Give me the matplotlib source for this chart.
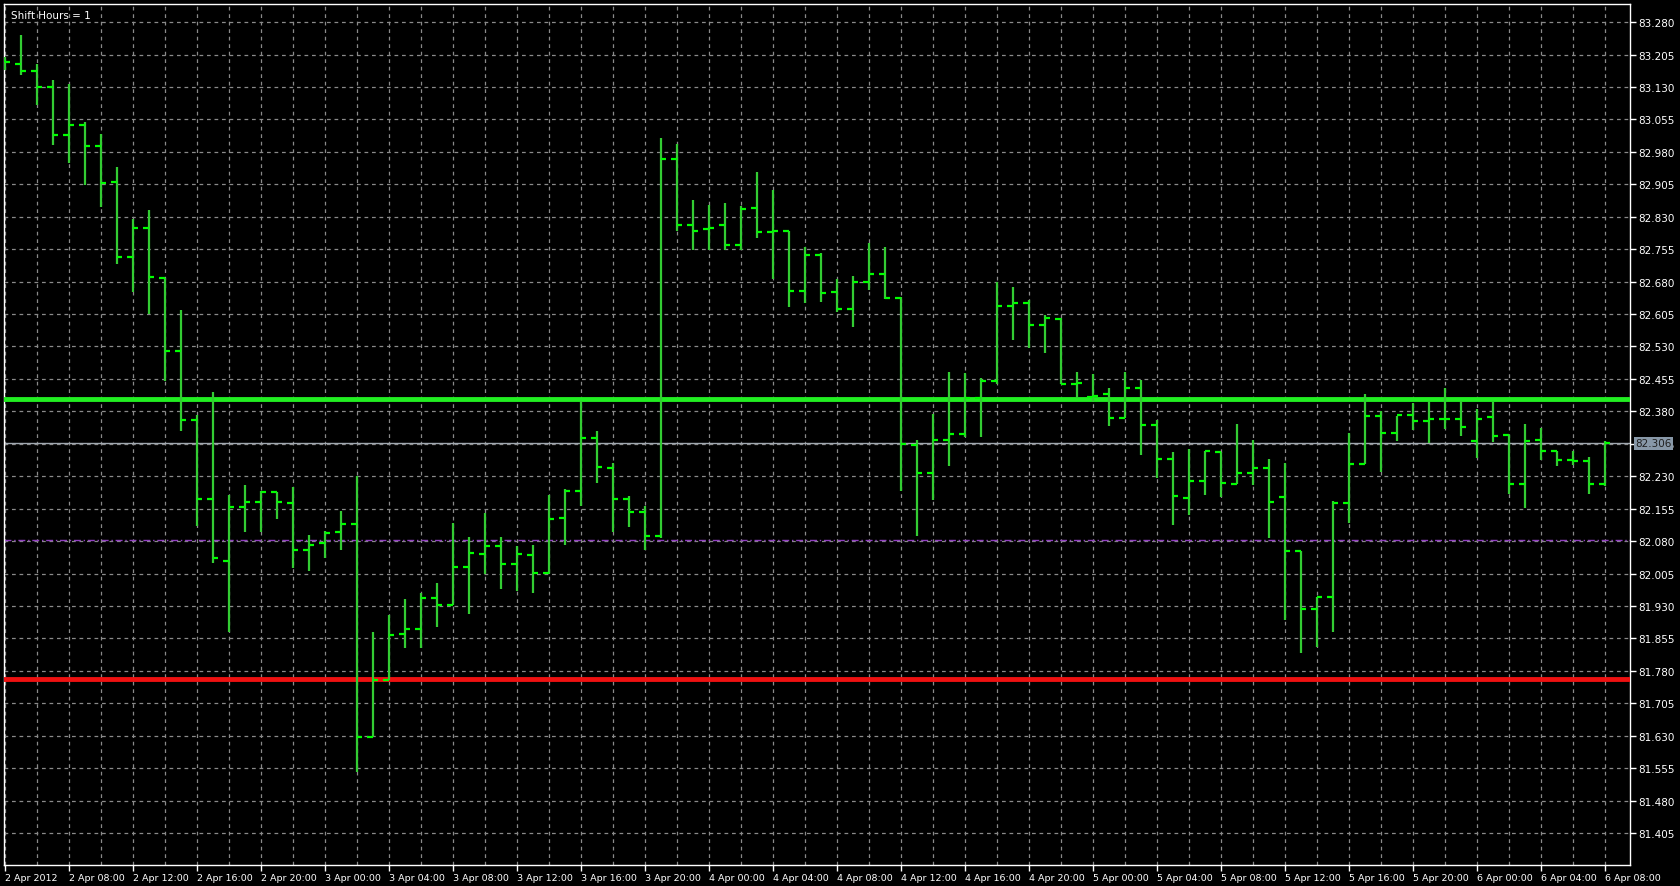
import matplotlib
matplotlib.use("Agg")
import matplotlib.pyplot as plt
import numpy as np

opens = [83.190,83.184,83.168,83.129,83.019,83.043,82.994,82.911,82.738,82.805,
         82.688,82.519,82.360,82.177,82.034,82.160,82.171,82.194,82.169,82.059,
         82.076,82.101,82.119,81.627,81.759,81.865,81.877,81.949,81.932,82.020,
         82.051,82.069,82.028,82.049,82.007,82.133,82.197,82.319,82.249,82.178,
         82.148,82.091,82.964,82.810,82.801,82.810,82.765,82.851,82.795,82.798,
         82.659,82.742,82.657,82.616,82.680,82.698,82.642,82.302,82.237,82.314,
         82.327,82.412,82.450,82.623,82.631,82.579,82.593,82.444,82.414,82.421,
         82.364,82.434,82.348,82.270,82.179,82.219,82.286,82.212,82.238,82.249,
         82.182,82.056,81.923,81.950,82.168,82.258,82.369,82.330,82.372,82.358,
         82.362,82.362,82.312,82.368,82.325,82.212,82.314,82.289,82.268,82.265,
         82.212]
highs = [83.200,83.250,83.184,83.146,83.136,83.049,83.021,82.945,82.825,82.845,
         82.689,82.614,82.371,82.424,82.187,82.210,82.196,82.194,82.204,82.094,
         82.103,82.149,82.231,81.869,81.910,81.947,81.960,81.984,82.123,82.089,
         82.145,82.089,82.068,82.071,82.186,82.201,82.405,82.334,82.260,82.185,
         82.162,83.013,82.998,82.869,82.858,82.862,82.855,82.933,82.892,82.798,
         82.760,82.746,82.687,82.692,82.769,82.761,82.645,82.313,82.373,82.470,
         82.468,82.458,82.680,82.668,82.637,82.603,82.595,82.470,82.466,82.435,
         82.472,82.452,82.359,82.285,82.293,82.289,82.286,82.350,82.313,82.269,
         82.260,82.056,81.950,82.173,82.329,82.421,82.381,82.370,82.399,82.405,
         82.434,82.405,82.385,82.401,82.325,82.351,82.341,82.289,82.289,82.274,
         82.312]
lows = [83.170,83.157,83.089,82.997,82.955,82.904,82.852,82.721,82.656,82.605,
        82.450,82.335,82.114,82.029,81.870,82.101,82.101,82.130,82.018,82.011,
        82.041,82.060,81.547,81.626,81.758,81.832,81.833,81.882,81.932,81.912,
        82.005,81.969,81.964,81.959,82.005,82.071,82.162,82.214,82.102,82.112,
        82.060,82.087,82.796,82.752,82.752,82.754,82.754,82.782,82.687,82.621,
        82.631,82.634,82.610,82.574,82.661,82.640,82.196,82.092,82.175,82.253,
        82.320,82.320,82.443,82.546,82.526,82.514,82.443,82.412,82.402,82.347,
        82.364,82.280,82.227,82.118,82.141,82.187,82.182,82.212,82.210,82.088,
        81.898,81.822,81.834,81.869,82.123,82.258,82.239,82.312,82.337,82.307,
        82.339,82.324,82.272,82.310,82.189,82.156,82.267,82.253,82.256,82.189,
        82.207]
closes = [83.187,83.166,83.129,83.019,83.043,82.994,82.909,82.738,82.805,82.690,
          82.519,82.360,82.177,82.041,82.160,82.171,82.194,82.171,82.059,82.072,
          82.099,82.120,81.627,81.759,81.863,81.877,81.949,81.932,82.020,82.053,
          82.069,82.028,82.051,82.007,82.132,82.197,82.319,82.251,82.178,82.148,
          82.091,82.964,82.810,82.798,82.805,82.765,82.849,82.795,82.798,82.659,
          82.742,82.653,82.616,82.678,82.698,82.642,82.305,82.237,82.314,82.327,
          82.412,82.450,82.623,82.631,82.579,82.596,82.443,82.446,82.416,82.364,
          82.434,82.348,82.270,82.185,82.219,82.289,82.214,82.238,82.249,82.171,
          82.056,81.923,81.950,82.168,82.258,82.369,82.330,82.372,82.358,82.362,
          82.362,82.344,82.362,82.324,82.212,82.311,82.289,82.268,82.265,82.212,
          82.308]

x_labels = ["2 Apr 2012","2 Apr 08:00","2 Apr 12:00","2 Apr 16:00","2 Apr 20:00",
            "3 Apr 00:00","3 Apr 04:00","3 Apr 08:00","3 Apr 12:00","3 Apr 16:00",
            "3 Apr 20:00","4 Apr 00:00","4 Apr 04:00","4 Apr 08:00","4 Apr 12:00",
            "4 Apr 16:00","4 Apr 20:00","5 Apr 00:00","5 Apr 04:00","5 Apr 08:00",
            "5 Apr 12:00","5 Apr 16:00","5 Apr 20:00","6 Apr 00:00","6 Apr 04:00",
            "6 Apr 08:00"]
y_ticks = [81.405,81.480,81.555,81.630,81.705,81.780,81.855,81.930,82.005,82.080,
           82.155,82.230,82.305,82.380,82.455,82.530,82.605,82.680,82.755,82.830,
           82.905,82.980,83.055,83.130,83.205,83.280]
resistance = 82.409
support = 81.762
pivot = 82.083
bid = 82.306

fig = plt.figure(figsize=(16.8, 8.87), dpi=100, facecolor="black")
ax = fig.add_axes([4/1680, 21/887, 1626/1680, 861/887], facecolor="black")
n = len(opens)
xs = np.arange(n)

ax.set_xlim(-0.04, 101.58)
ax.set_ylim(81.331, 83.322)

grid_kw = dict(color="#8a8a8a", linestyle=(0, (3, 3)), linewidth=0.9, zorder=1)
for yv in y_ticks:
    ax.axhline(yv, **grid_kw)
for xv in range(0, 102, 2):
    ax.axvline(xv, **grid_kw)

ax.axhline(pivot, color="#9040c0", linestyle=(0, (5, 2, 1, 2)), linewidth=1.0, zorder=2)
ax.axhline(bid, color="#a0a8b0", linewidth=1.0, zorder=2)
ax.axhline(resistance, color="#22ee22", linewidth=3.5, zorder=3)
ax.axhline(support, color="#ee1111", linewidth=3.5, zorder=3)

ax.vlines(xs, lows, highs, color="#33cc33", linewidth=1.6, zorder=4)
ax.hlines(opens, xs - 0.33, xs, color="#00ff00", linewidth=1.6, zorder=4)
ax.hlines(closes, xs, xs + 0.33, color="#00ff00", linewidth=1.6, zorder=4)

ax.yaxis.tick_right()
ax.set_yticks(y_ticks)
ax.set_yticklabels([f"{v:.3f}" for v in y_ticks])
ax.set_xticks(np.arange(0, 4 * len(x_labels), 4))
ax.set_xticklabels(x_labels, ha="left")
ax.tick_params(axis="both", colors="white", labelcolor="white", labelsize=7.5,
               length=4, width=1, direction="out")
ax.tick_params(axis="x", pad=2, labelsize=6.8)
ax.tick_params(axis="y", pad=2)
for s in ax.spines.values():
    s.set_color("white")
    s.set_linewidth(1)

ax.annotate(f"{bid:.3f}", xy=(1.0, bid), xycoords=("axes fraction", "data"),
            xytext=(4, 0), textcoords="offset points", va="center", ha="left",
            fontsize=7.5, color="#202020",
            bbox=dict(boxstyle="square,pad=0.15", facecolor="#8898a8", edgecolor="none"),
            zorder=6, annotation_clip=False)

ax.text(0.004, 0.993, "Shift Hours = 1", transform=ax.transAxes, color="white",
        fontsize=7.5, va="top", ha="left")

fig.savefig("out.png", dpi=100, facecolor="black")
